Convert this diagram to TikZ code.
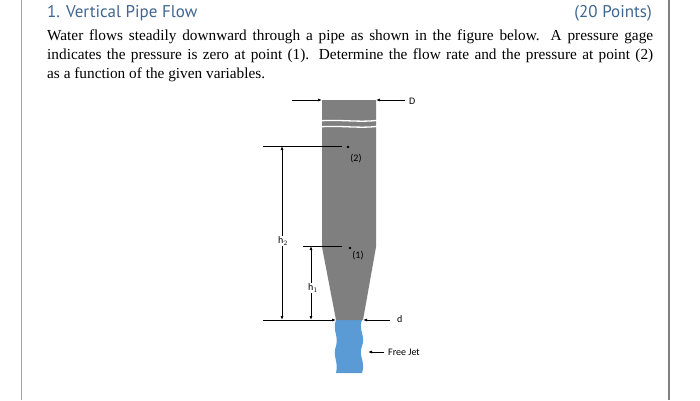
\documentclass[tikz,border=0pt]{standalone}
\usepackage{fontspec}
\setmainfont{Liberation Serif}
\newfontfamily\titlef{PT Sans}
\newfontfamily\labf{Carlito}
\usetikzlibrary{arrows.meta}
\definecolor{pipeg}{HTML}{7F7F7F}
\definecolor{jetb}{HTML}{5B9BD5}
\definecolor{titleb}{HTML}{3F6690}
\tikzset{dim/.style={-{Latex[length=4pt,width=3pt]},line width=0.9pt},
  ln/.style={line width=0.9pt},
  lab/.style={font=\labf\fontsize{10}{12}\selectfont,inner sep=0pt},
  body/.style={font=\fontsize{15.3}{18}\selectfont,anchor=base west,inner sep=0pt}}
\begin{document}
\begin{tikzpicture}[x=1pt,y=-1pt]
\useasboundingbox (0,0) rectangle (700,400);
\draw[gray!70,line width=0.8pt] (21,0) -- (21,400);
\draw[gray,line width=1.4pt] (669,0) -- (669,400);
\node[anchor=base west,inner sep=0pt,text=titleb,font=\titlef\fontsize{17}{20}\selectfont] (t) at (47,17) {1. Vertical Pipe Flow};
\node[anchor=base east,inner sep=0pt,text=titleb,font=\titlef\fontsize{17}{20}\selectfont] (p) at (652,17) {(20 Points)};
\node[body] (l1) at (47,40) {\makebox[606pt][s]{Water flows steadily downward through a pipe as shown in the figure below. A pressure gage}};
\node[body] (l2) at (47,59) {\makebox[606pt][s]{indicates the pressure is zero at point (1). Determine the flow rate and the pressure at point (2)}};
\node[body] (l3) at (47,78) {as a function of the given variables.};
% jet
\fill[jetb] (336,320) -- (362,320) .. controls (358,330) and (366,336) .. (362,346) .. controls (358,356) and (366,362) .. (362,373) -- (336,373) .. controls (339,362) and (332,356) .. (336,346) .. controls (339,336) and (332,330) .. (336,320) -- cycle;
% pipe
\fill[pipeg] (322,100) -- (376,100) -- (376,247) -- (363,320) -- (336,320) -- (322,247) -- cycle;
\draw[white,line width=1.3pt] (318,121) .. controls (340,119) and (360,123) .. (380,120);
\draw[white,line width=1.3pt] (318,127) .. controls (340,125) and (360,129) .. (380,126);
% coordinates
\coordinate (Dl) at (322,100); \coordinate (Dr) at (376,100);
\coordinate (Dla) at (292,100); \coordinate (Dra) at (405,100);
\draw[dim] (Dla) -- (Dl);
\draw[dim] (Dra) -- (Dr);
\node[lab,anchor=west] (D) at (409,101) {D};
% level lines
\coordinate (a2) at (263,146); \coordinate (b2) at (342,146);
\coordinate (a1) at (303,246); \coordinate (b1) at (342,246);
\coordinate (a0) at (263,320); \coordinate (b0) at (336,320);
\draw[ln] (a2) -- (b2);
\draw[ln] (a1) -- (b1);
\draw[dim] (a0) -- (b0);
\fill (348,147) circle (1.3pt);
\fill (350,248) circle (1.3pt);
\node[lab] (n2) at (356,159) {(2)};
\node[lab] (n1) at (358,256) {(1)};
% dimension arrows
\coordinate (h2t) at (282,146); \coordinate (h2b) at (282,320);
\coordinate (h1t) at (311,246); \coordinate (h1b) at (311,320);
\draw[{Latex[length=4pt,width=3pt]}-{Latex[length=4pt,width=3pt]},line width=0.9pt] (h2t) -- (h2b);
\draw[{Latex[length=4pt,width=3pt]}-{Latex[length=4pt,width=3pt]},line width=0.9pt] (h1t) -- (h1b);
\node[lab,fill=white,inner sep=1pt] (h2) at (283,241) {h$_2$};
\node[lab,fill=white,inner sep=1pt] (h1) at (313,288) {h$_1$};
% d
\coordinate (dr) at (363,320); \coordinate (dra) at (390,320);
\draw[dim] (dra) -- (dr);
\node[lab,anchor=west] (d) at (397,319) {d};
% free jet
\coordinate (fj) at (368,352); \coordinate (fja) at (384,352);
\draw[dim] (fja) -- (fj);
\node[lab,anchor=west] (free) at (388,352) {Free Jet};
\end{tikzpicture}
\end{document}
